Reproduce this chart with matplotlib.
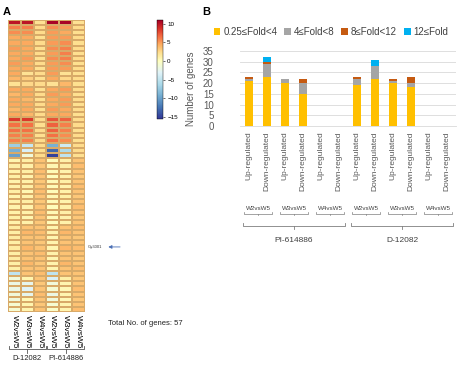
import numpy as np
import matplotlib.pyplot as plt
from matplotlib.colors import TwoSlopeNorm

plt.rcParams['font.family'] = ['Liberation Sans', 'DejaVu Sans']

# ---- panel A: heatmap, 57 genes x 6 comparisons ----
hm_cols = ['W2vsW5', 'W3vsW5', 'W4vsW5', 'W2vsW5', 'W3vsW5', 'W4vsW5']
hm_groups = ['D-12082', 'PI-614886']

d_w2 = [10, 6, 5.5, 4.5, 4.5, 5, 4.5, 4.5, 5, 4.5, 4.5, 4, 2,
        4.5, 4, 4.5, 4.5, 4, 4.5, 8.5, 6.5, 6.5, 6, 6, -7, -9, -10,
        0.7, 1.2, 1, 1.2, 0.8, 1, 1.2, 0.7, 1, 0.8, 1, 1.2, 0.9,
        1.4, 1.2, 1.4, 1.2, 1.5, 1.2, 1.4, 1.2, 1.2, -5,
        -1.5, -2, -2, -1.5, -1.5, -1, -1]
d_w3 = [10, 6, 5.5, 4.5, 4.5, 4.5, 4.5, 5, 4.5, 4.5, 2, 3, 2.5,
        4.5, 4.5, 4, 4.5, 4.5, 4, 8.5, 6.5, 6.5, 6, 6, -4.5, -3.5, -1.5,
        1.2, 1, 1.2, 0.8, 1, 1.2, 0.6, 1, 1.2, 0.8, 1, 0.7, 1,
        3.5, 4, 3.5, 3.5, 4, 3.5, 3.5, 4, 3.5, 3.5,
        0.7, -2.5, -3, -2.5, 0.5, 0.7, 0.7]
d_w4 = [2, 2.4, 2.4, 2.2, 2.4, 2.2, 2.4, 2.2, 2.4, 2.2, 2.4, 2.2, 2.4,
        2.2, 2.4, 2.2, 2.4, 2.2, 2.4, 2.4, 2.2, 2.4, 2.2, 2.4, 2.4, 2.2, 2.4,
        3.5, 3.3, 3.7, 3.5, 3.3, 3.5, 3.7, 3.5, 3.3, 3.5, 3.7, 3.5, 3.3,
        3.5, 3.7, 3.5, 3.3, 3.5, 3.7, 3.5, 3.3, 3.5, 3.7,
        3.5, 3.3, 3.5, 3.7, 3.5, 3.3, 3.5]
p_w2 = [10.8, 5.5, 5, 5, 5, 5.5, 5, 5.5, 5, 5, 5, 4.5, 2,
        4.5, 5, 4.5, 4.5, 5, 4.5, 7.5, 7, 7, 6.5, 6.5, -9, -13, -15,
        0.3, 0.6, 0.4, 0.1, 0.5, 0.4, 0.3, 0.6, 0.4, 0.2, 0.5, 0.4, 0.3,
        0.7, 1, 0.7, 0.8, 0.7, 1, 0.7, 0.8, 0.7, -5,
        -3.5, -1.5, -1, -2, -1.5, -1, -0.5]
p_w3 = [10.8, 5, 4.5, 5, 5.5, 6, 6, 6, 5.5, 5, 2, 2.5, 4,
        5, 4.5, 5, 5, 4.5, 4.5, 7, 6, 6, 5.5, 5.5, -4, -6, -5,
        1, 1.2, 0.8, 1, 1.2, 0.9, 1, 1.2, 0.8, 1, 1.1, 0.9, 1,
        3.5, 4, 3.5, 3.5, 4, 3.5, 3.5, 4, 3.5, 3.5,
        1.2, 0.7, 0.5, 0.7, 0.5, 0.7, 0.7]
p_w4 = [2, 2.4, 2.2, 2.4, 2.2, 2.4, 2.2, 2.4, 2.2, 2.4, 2.2, 2.4, 2.2,
        2.4, 2.2, 2.4, 2.2, 2.4, 2.2, 2.4, 2.4, 2.2, 2.4, 2.2, 2.4, 2.4, 2.2,
        3.5, 3.7, 3.5, 3.3, 3.5, 3.7, 3.5, 3.3, 3.5, 3.7, 3.5, 3.3, 3.5,
        3.7, 3.5, 3.3, 3.5, 3.7, 3.5, 3.3, 3.5, 3.7, 3.5,
        3.3, 3.5, 3.7, 3.5, 3.3, 3.5, 3.7]
cbar_ticks = [10, 5, 0, -5, -10, -15]

# ---- panel B: stacked bars ----
bar_cats = ['Up-regulated', 'Down-regulated'] * 6
pair_labels = ['W2vsW5', 'W3vsW5', 'W4vsW5'] * 2
line_labels = ['PI-614886', 'D-12082']
fold_names = ['0.25\u2264Fold<4', '4\u2264Fold<8', '8\u2264Fold<12', '12\u2264Fold']
fold_lo = [21, 23, 20, 15, 0, 0, 19, 22, 20, 18, 0, 0]
fold_mid = [1, 6, 2, 5, 0, 0, 3, 6, 1, 2, 0, 0]
fold_hi = [1, 1, 0, 2, 0, 0, 1, 0, 1, 3, 0, 0]
fold_top = [0, 2, 0, 0, 0, 0, 0, 3, 0, 0, 0, 0]
fold_colors = ['#FFC000', '#A5A5A5', '#C55A11', '#00B0F0']

W, H = 474, 365
fig = plt.figure(figsize=(W / 100, H / 100), dpi=100)


def box(l, t, r, b):
    return [l / W, 1 - b / H, (r - l) / W, (b - t) / H]


def bracket(ax, x0, x1, y, h, lw=0.6, color='#7f7f7f'):
    tr = ax.get_xaxis_transform()
    xm = (x0 + x1) / 2
    ax.plot([x0, x0, x1, x1], [y + h, y, y, y + h], color=color, lw=lw,
            transform=tr, clip_on=False)
    ax.plot([xm, xm], [y, y - h], color=color, lw=lw, transform=tr, clip_on=False)


# heatmap
data = np.array([d_w2, d_w3, d_w4, p_w2, p_w3, p_w4]).T
norm = TwoSlopeNorm(vmin=-15.5, vcenter=0, vmax=11)
ax_hm = fig.add_axes(box(8, 20, 85, 312))
mesh = ax_hm.pcolormesh(data, cmap='RdYlBu_r', norm=norm,
                        edgecolors='#d8aa68', linewidth=0.35)
ax_hm.set_xlim(0, 6)
ax_hm.set_ylim(len(d_w2), 0)
for s in ax_hm.spines.values():
    s.set_visible(False)
ax_hm.set_yticks([])
ax_hm.set_xticks(np.arange(6) + 0.5)
ax_hm.set_xticklabels(hm_cols, rotation=270, fontsize=6, va='top')
ax_hm.tick_params(axis='x', length=0, pad=2)
bracket(ax_hm, 0.05, 2.95, -0.128, 0.012, color='#555555')
bracket(ax_hm, 3.05, 5.95, -0.128, 0.012, color='#555555')
for i, g in enumerate(hm_groups):
    ax_hm.text(1.5 + 3 * i, -0.158, g, transform=ax_hm.get_xaxis_transform(),
               ha='center', va='center', fontsize=5.5, color='#222222')
ax_hm.text(6.2, 44.3, 'Gy3001', fontsize=3, va='center', color='#333333')
ax_hm.annotate('', xy=(7.6, 44.3), xytext=(8.95, 44.3),
               arrowprops=dict(arrowstyle='-|>', color='#4a6fb5', lw=0.6,
                               mutation_scale=5), annotation_clip=False)
ax_hm.text(7.8, 59.2, 'Total No. of genes: 57', fontsize=5.5, va='center',
           color='#222222')

cax = fig.add_axes(box(157, 20, 163, 119))
cb = fig.colorbar(mesh, cax=cax)
cb.ax.set_yscale('linear')
cb.set_ticks(cbar_ticks)
cb.ax.tick_params(labelsize=4.5, length=1.5, width=0.4, pad=1.5)
cb.outline.set_linewidth(0.3)

fig.text(3 / W, 1 - 12 / H, 'A', fontsize=8, fontweight='bold', va='center')
fig.text(202 / W, 1 - 12 / H, 'B', fontsize=8, fontweight='bold', va='center')

# stacked bars
ax = fig.add_axes(box(240, 51, 456, 126))
x = np.arange(len(bar_cats))
bottom = np.zeros(len(x))
for vals, name, col in zip([fold_lo, fold_mid, fold_hi, fold_top], fold_names, fold_colors):
    ax.bar(x, vals, width=0.45, bottom=bottom, color=col, label=name, zorder=3)
    bottom += np.array(vals)
ax.set_xlim(-0.5, len(x) - 0.5)
ax.set_ylim(0, 35)
ax.set_yticks(range(0, 36, 5))
ax.grid(axis='y', color='#D9D9D9', lw=0.6, zorder=0)
for s in ['top', 'right', 'left']:
    ax.spines[s].set_visible(False)
ax.spines['bottom'].set_color('#D9D9D9')
ax.spines['bottom'].set_linewidth(0.6)
ax.tick_params(axis='y', length=0, labelsize=7, labelcolor='#595959', pad=19)
ax.set_xticks(x)
ax.set_xticklabels(bar_cats, rotation=90, fontsize=6, color='#595959')
ax.tick_params(axis='x', length=0, pad=4)
ax.set_ylabel('Number of genes', fontsize=7, color='#595959', labelpad=5)

trx = ax.get_xaxis_transform()
for i, lab in enumerate(pair_labels):
    xc = 2 * i + 0.5
    ax.text(xc, -1.1, lab, transform=trx, ha='center', va='center',
            fontsize=4.5, color='#404040')
    bracket(ax, xc - 0.8, xc + 0.8, -1.17, 0.02, lw=0.5)
for i, lab in enumerate(line_labels):
    xc = 6 * i + 2.5
    bracket(ax, xc - 2.85, xc + 2.85, -1.33, 0.04, lw=0.6)
    ax.text(xc, -1.53, lab, transform=trx, ha='center', va='center',
            fontsize=6, color='#404040')

ax.legend(loc='center', bbox_to_anchor=(331 / W, 1 - 32 / H),
          bbox_transform=fig.transFigure, ncol=4, frameon=False, fontsize=7,
          handlelength=0.7, handleheight=0.7, handletextpad=0.3,
          columnspacing=0.7, labelcolor='#404040')

fig.savefig('out.png', dpi=100, facecolor='white')
